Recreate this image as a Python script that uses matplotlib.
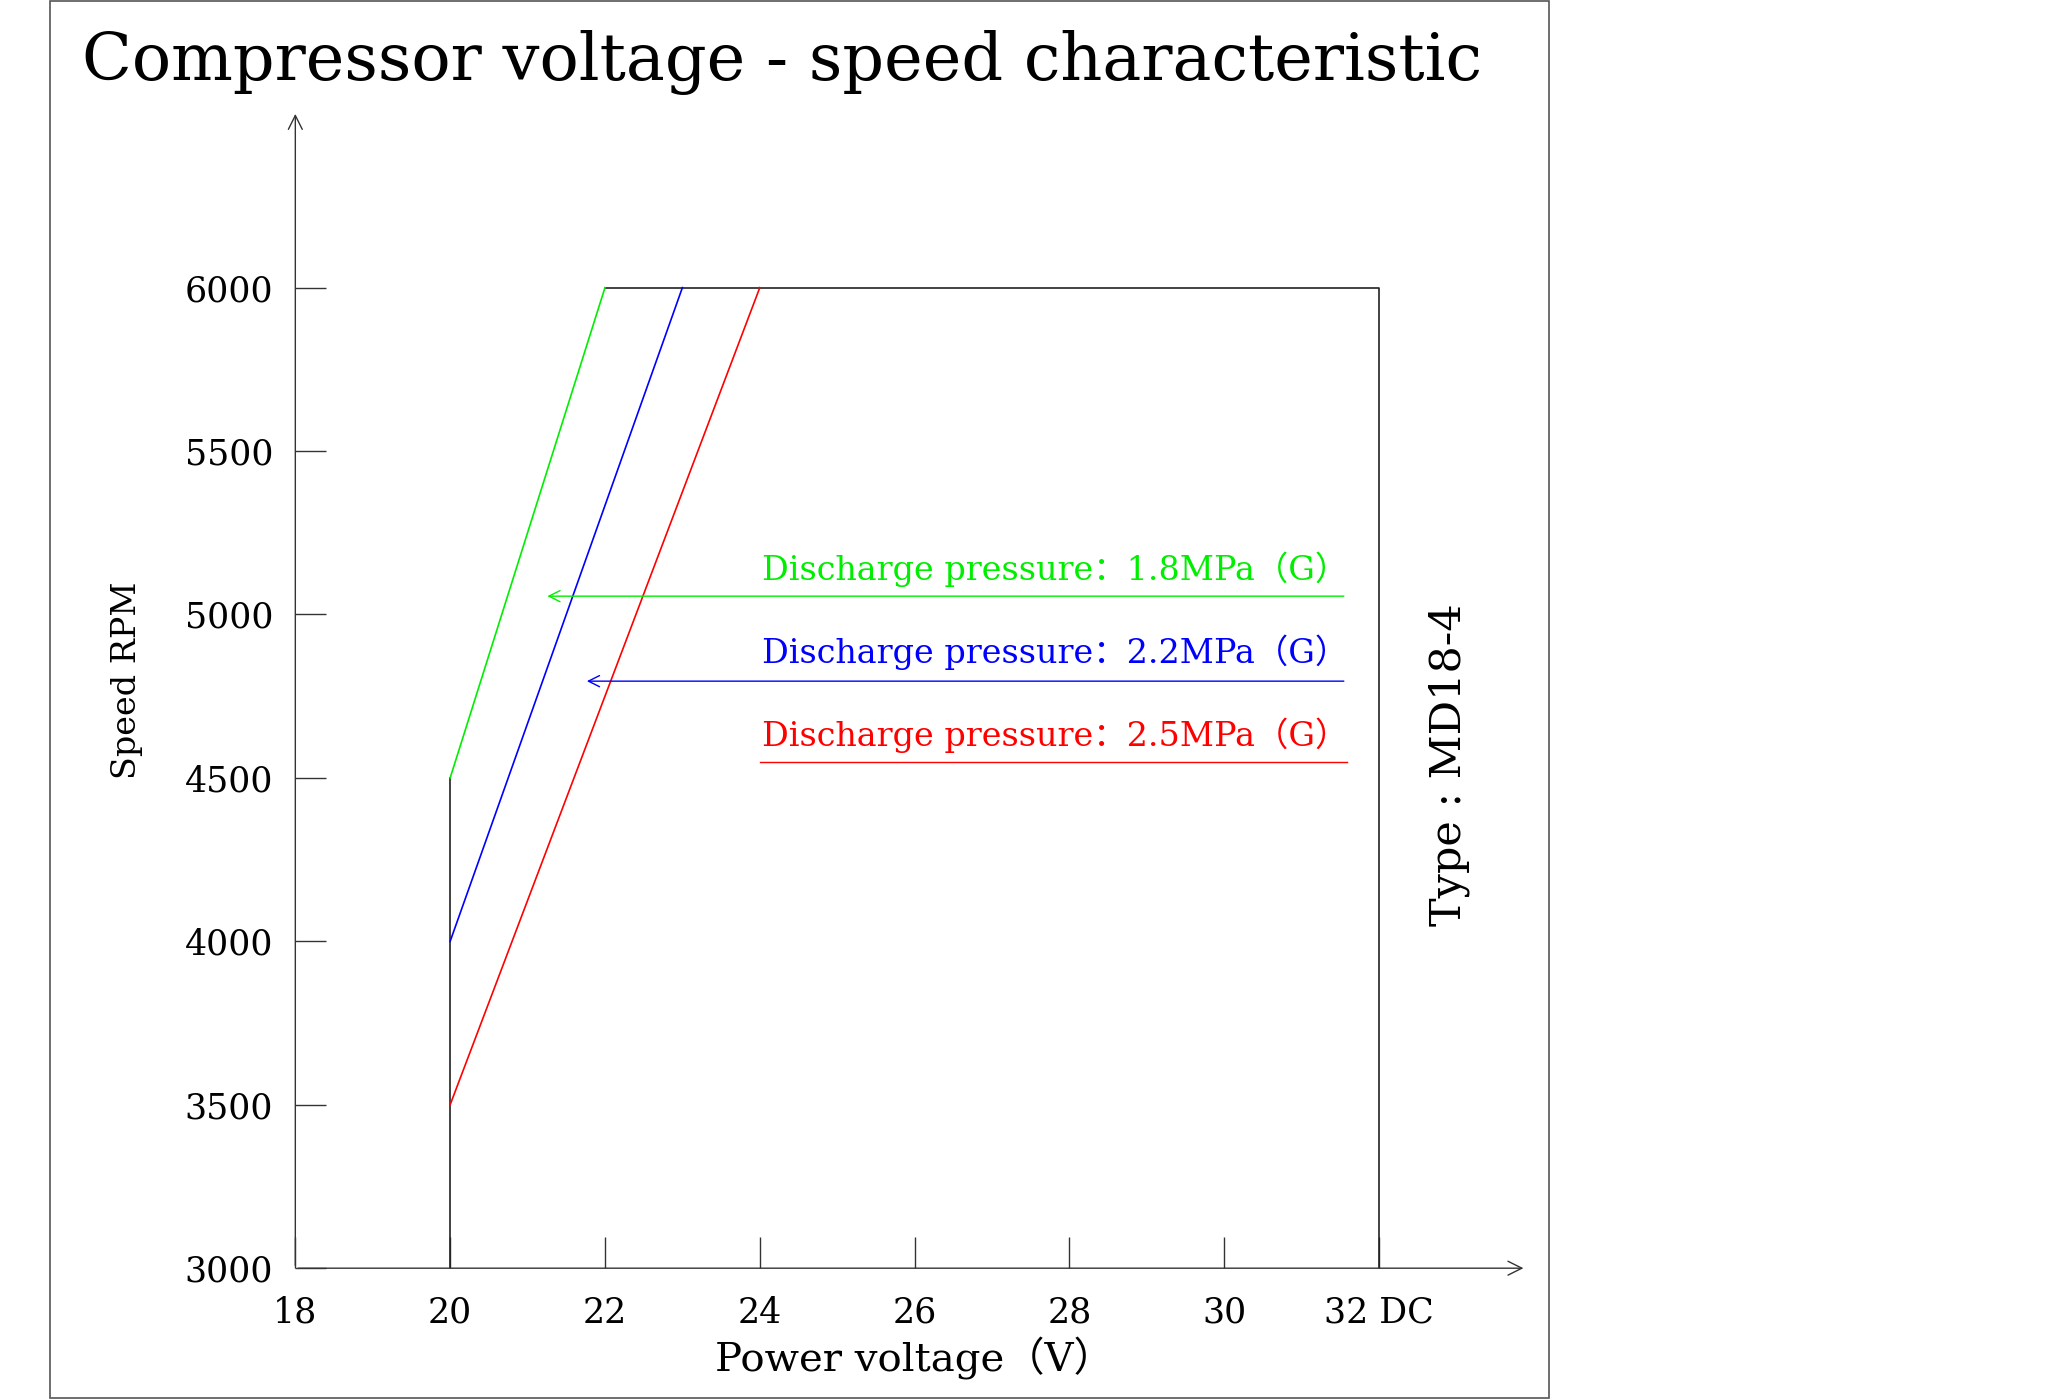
import matplotlib
matplotlib.use("Agg")
import matplotlib.pyplot as plt
from matplotlib.patches import Rectangle

plt.rcParams['font.family'] = ['DejaVu Serif', 'Noto Sans CJK SC', 'DejaVu Sans']

x_ticks = [18, 20, 22, 24, 26, 28, 30, 32]
x_ticklabels = ['18', '20', '22', '24', '26', '28', '30', '32 DC']
y_ticks = [3000, 3500, 4000, 4500, 5000, 5500, 6000]

boundary_x = [20, 20]
boundary_y = [3000, 4500]
envelope_x = [22, 32, 32]
envelope_y = [6000, 6000, 3000]

series_names = ['Discharge pressure：1.8MPa（G）', 'Discharge pressure：2.2MPa（G）', 'Discharge pressure：2.5MPa（G）']
series_colors = ['#00ee00', '#0000ff', '#ff0000']
series_x = [[20, 22], [20, 23], [20, 24]]
series_y = [[4500, 6000], [4000, 6000], [3500, 6000]]
label_y = [5085, 4830, 4575]
line_y = [5056, 4796, 4548]
line_x0 = [21.22, 21.73, 24.0]
arrow_flags = [True, True, False]

fig = plt.figure(figsize=(20.48, 13.99), dpi=100)
fig.patches.append(Rectangle((0.0244, 0.0005), 0.732, 0.999, transform=fig.transFigure,
                             fill=False, edgecolor='#555555', lw=1.2))
ax = fig.add_axes([0.1442, 0.0935, 0.6048, 0.8411])
ax.set_xlim(18, 34)
ax.set_ylim(3000, 6600)
for s in ax.spines.values():
    s.set_visible(False)

ax.annotate('', xy=(33.9, 3000), xytext=(18, 3000),
            arrowprops=dict(arrowstyle='->', color='#333333', lw=1.0, mutation_scale=25), annotation_clip=False)
ax.annotate('', xy=(18, 6540), xytext=(18, 3000),
            arrowprops=dict(arrowstyle='->', color='#333333', lw=1.0, mutation_scale=25), annotation_clip=False)

ax.set_xticks(x_ticks)
ax.set_xticklabels(x_ticklabels)
ax.set_yticks(y_ticks)
ax.tick_params(direction='in', length=22, width=1, color='#333333', labelsize=25)
ax.tick_params(axis='x', pad=20)
ax.tick_params(axis='y', pad=16)

ax.plot(boundary_x, boundary_y, color='#222222', lw=1.2)
ax.plot(envelope_x, envelope_y, color='#222222', lw=1.2)
for xs, ys, c in zip(series_x, series_y, series_colors):
    ax.plot(xs, ys, color=c, lw=1.2)

for name, c, ty, ly, x0, arr in zip(series_names, series_colors, label_y, line_y, line_x0, arrow_flags):
    ax.text(31.6, ty, name, color=c, fontsize=24, ha='right', va='bottom')
    if arr:
        ax.annotate('', xy=(x0, ly), xytext=(31.58, ly),
                    arrowprops=dict(arrowstyle='->', color=c, lw=1.0, mutation_scale=20))
    else:
        ax.plot([x0, 31.58], [ly, ly], color=c, lw=1.0)

ax.text(32.9, 4540, 'Type : MD18-4', rotation=90, fontsize=31, ha='center', va='center')
ax.set_xlabel('Power voltage（V）', fontsize=29, labelpad=4)
ax.set_ylabel('Speed RPM', fontsize=24, labelpad=30)
fig.text(0.040, 0.955, 'Compressor voltage - speed characteristic', fontsize=47, ha='left', va='center')

fig.savefig('out.png', dpi=100)
